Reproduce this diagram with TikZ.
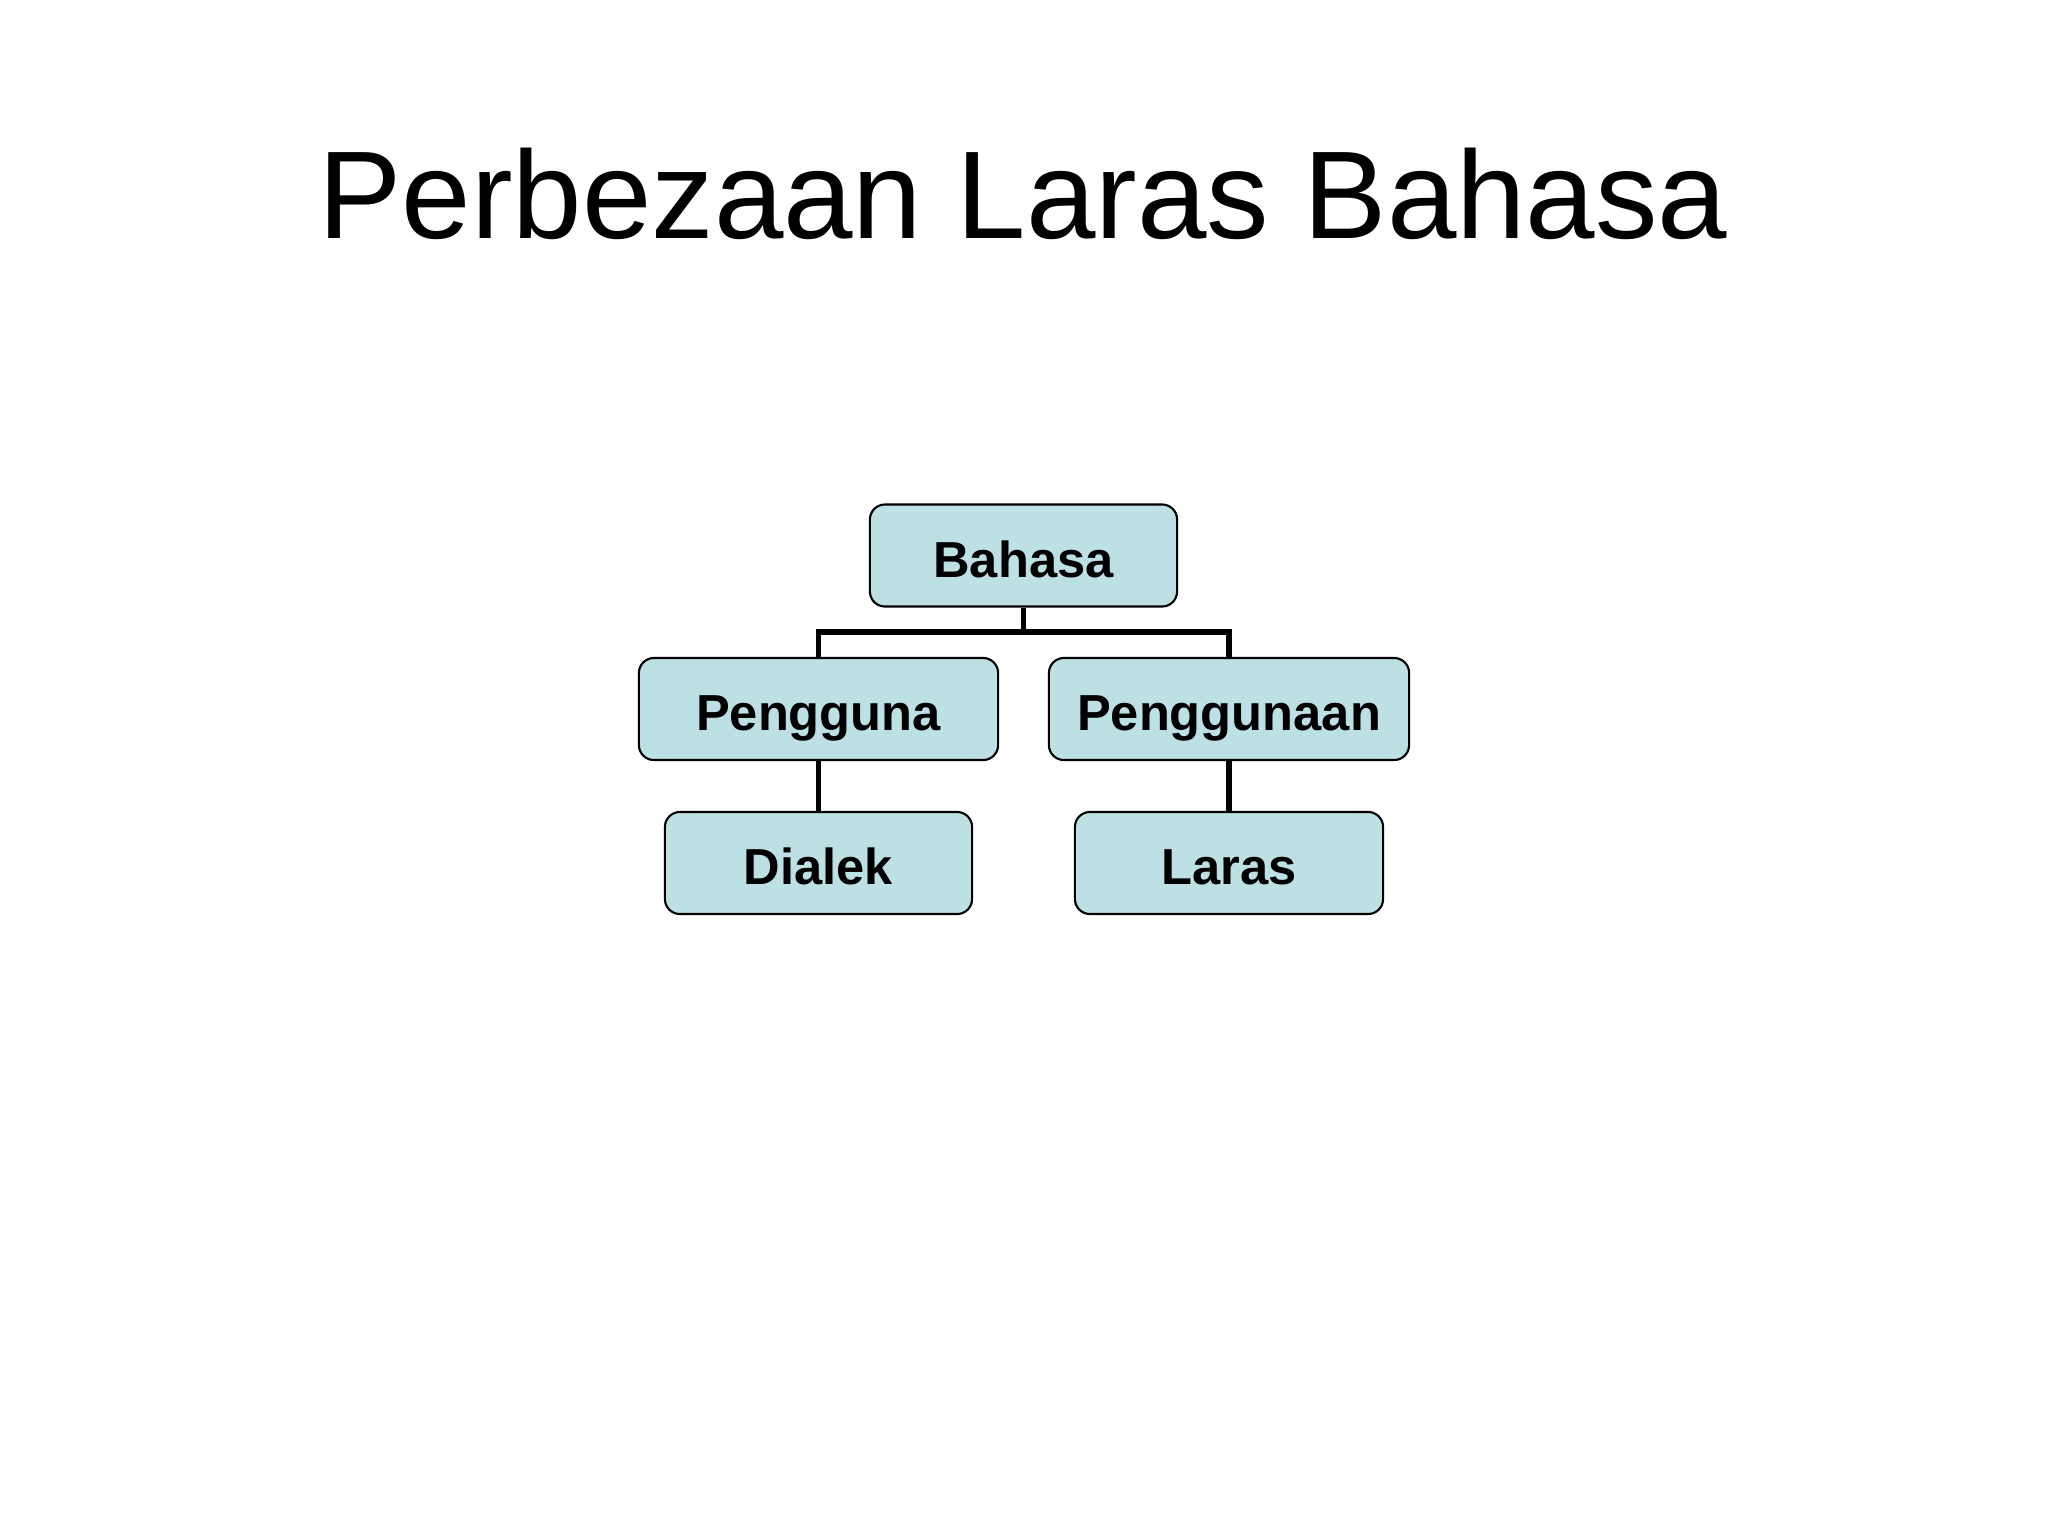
\documentclass[tikz,border=0pt]{standalone}
\usepackage{fontspec}
\setmainfont{Liberation Sans}
\usetikzlibrary{positioning}
\definecolor{boxblue}{RGB}{188,224,228}

\begin{document}
\begin{tikzpicture}[x=0.01cm,y=-0.01cm]
\useasboundingbox (0,0) rectangle (2048,1536);
\node [anchor=base,font=\fontsize{35.5}{40}\selectfont] (title) at (1023,238) {Perbezaan Laras Bahasa};

\begin{scope}[every node/.style={rectangle,rounded corners=0.15cm,draw,line width=0.6pt,fill=boxblue,minimum height=1.02cm,inner sep=0pt,text height=0.43cm,text depth=0pt,font=\fontsize{14.4}{17}\selectfont\bfseries}]
    \node [minimum width=3.07cm] (bahasa) at (1023.5,555.5) {Bahasa};

    \node [minimum width=3.59cm] (pengguna) at (818.5,709) {Pengguna};
    \node [minimum width=3.60cm] (penggunaan) at (1229,709) {Penggunaan};

    \node [minimum width=3.07cm] (dialek) at (818.5,863) {Dialek};
    \node [minimum width=3.08cm] (laras) at (1229,863) {Laras};
\end{scope}

\coordinate (split) at (1023.5,632);

\begin{scope}[line width=1.6pt]
     \draw (bahasa.south) -- (split);
     \draw (split) -| (pengguna.north);
     \draw (split) -| (penggunaan.north);

     \draw (pengguna.south) -- (dialek.north);
     \draw (penggunaan.south) -- (laras.north);
\end{scope}
\end{tikzpicture}
\end{document}
